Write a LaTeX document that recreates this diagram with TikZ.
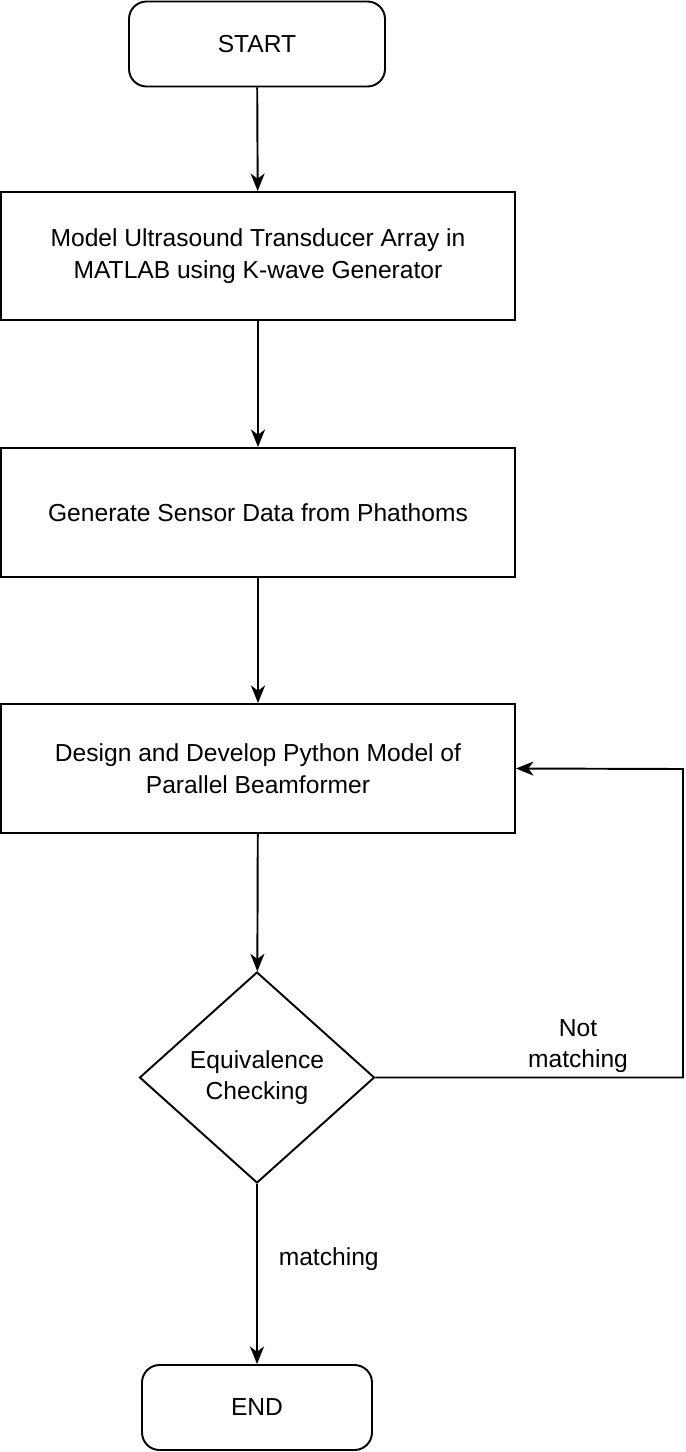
\documentclass[tikz,border=0pt]{standalone}
\usepackage{fontspec}
\setmainfont{Liberation Sans}
\usetikzlibrary{shapes.geometric,arrows.meta}
\tikzset{
  txt/.style={font=\fontsize{14}{18}\selectfont},
  box/.style={draw, line width=1.1pt, minimum width=10.28cm, minimum height=2.56cm, align=center, txt},
  term/.style={box, rounded corners=10pt, minimum height=1.7cm},
  check/.style={draw, line width=1.1pt, diamond, aspect=1.11, minimum width=4.7cm, minimum height=4.22cm, inner sep=0pt, align=center, txt},
  arr/.style={line width=1.1pt, -{Stealth[length=10pt, width=8pt, inset=3pt]}},
  lbl/.style={align=center, txt}
}
\begin{document}
\begin{tikzpicture}
    % Cadre
    \useasboundingbox (0,0) rectangle (13.7,-29.04);

    % Blocs
    \node[term, minimum width=5.12cm] (start) at (5.14,-0.88) {START};
    \node[box] (model) at (5.16,-5.12) {Model Ultrasound Transducer Array in\\MATLAB using K-wave Generator};
    \node[box, minimum height=2.58cm] (sensor) at (5.16,-10.25) {Generate Sensor Data from Phathoms};
    \node[box, minimum height=2.58cm] (design) at (5.16,-15.37) {Design and Develop Python Model of\\Parallel Beamformer};
    \node[check] (equiv) at (5.14,-21.55) {Equivalence\\Checking};
    \node[term, minimum width=4.6cm] (end) at (5.14,-28.15) {END};
    \coordinate (corner1) at (13.66,-21.55);
    \coordinate (corner2) at (13.66,-15.38);

    % Fleches
    \draw[arr] (start) -- (model);
    \draw[arr] (model) -- (sensor);
    \draw[arr] (sensor) -- (design);
    \draw[arr] (design) -- (equiv);
    \draw[arr] (equiv) -- node[lbl, right=0.3cm, pos=0.42] {matching} (end);
    \draw[arr] (equiv.east) -- (corner1) -- (corner2) -- (design.east);

    % Etiquette
    \node[lbl] (notm) at (11.56,-20.92) {Not\\matching};
\end{tikzpicture}
\end{document}
